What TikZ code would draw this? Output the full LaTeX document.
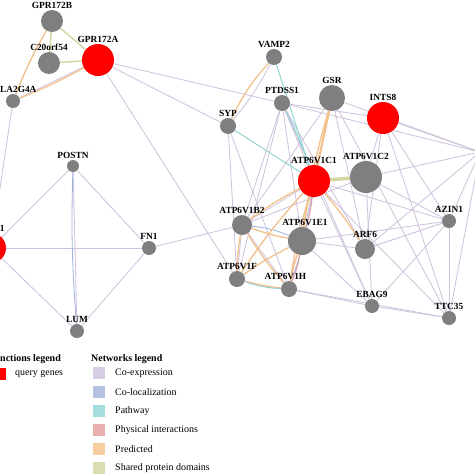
\documentclass[tikz,border=0pt]{standalone}
\usepackage{fontspec}
\setmainfont{Liberation Serif}
\usetikzlibrary{backgrounds}

\definecolor{gnode}{HTML}{7F7F7F}
\definecolor{qred}{HTML}{FF0000}
\definecolor{coexp}{HTML}{CEC2DC}
\definecolor{coloc}{HTML}{9FB3DC}
\definecolor{pathw}{HTML}{8FD4D4}
\definecolor{physi}{HTML}{E49C9C}
\definecolor{predi}{HTML}{F2C08A}
\definecolor{shdom}{HTML}{D3D69E}

\tikzset{
  gene/.style={circle,fill=gnode,inner sep=0pt,minimum size=#1},
  query/.style={circle,fill=qred,inner sep=0pt,minimum size=#1},
  lbl/.style={font=\bfseries\fontsize{8}{9}\selectfont,inner sep=1pt},
  legbox/.style={inner sep=0pt,minimum size=0.36cm},
  legtext/.style={font=\fontsize{8.5}{10}\selectfont,inner sep=0pt,anchor=west},
  leghead/.style={font=\bfseries\fontsize{8.5}{10}\selectfont,inner sep=0pt,anchor=west},
  coex/.style={draw=coexp,line width=0.7pt},
  coloca/.style={draw=coloc,line width=0.7pt},
  pathwy/.style={draw=pathw,line width=0.8pt},
  phys/.style={draw=physi,line width=0.8pt},
  pred/.style={draw=predi,line width=1.1pt},
  shdm/.style={draw=shdom,line width=1.2pt}
}

\begin{document}
\begin{tikzpicture}[x=0.03cm,y=-0.03cm]
\useasboundingbox (0,0) rectangle (474,474);

% genes
\node[gene=0.66cm,label={[lbl]above:GPR172B}] (gprb) at (52,21) {};
\node[gene=0.66cm,label={[lbl]above:C20orf54}] (corf) at (49,63) {};
\node[query=0.96cm,label={[lbl]above:GPR172A}] (gpra) at (98,60) {};
\node[gene=0.42cm,label={[lbl,xshift=4.5pt]above:LA2G4A}] (pla) at (13,101) {};
\node[gene=0.48cm,label={[lbl]above:VAMP2}] (vamp) at (274,57) {};
\node[gene=0.48cm,label={[lbl]above:SYP}] (syp) at (228,126) {};
\node[gene=0.48cm,label={[lbl]above:PTDSS1}] (ptd) at (282,103) {};
\node[gene=0.78cm,label={[lbl]above:GSR}] (gsr) at (332,98) {};
\node[query=0.96cm,label={[lbl]above:INTS8}] (ints) at (383,118) {};
\node[query=0.96cm,label={[lbl]above:ATP6V1C1}] (vc1) at (314,181) {};
\node[gene=0.96cm,label={[lbl]above:ATP6V1C2}] (vc2) at (366,177) {};
\node[gene=0.36cm,label={[lbl]above:POSTN}] (postn) at (73,166) {};
\node[query=0.9cm,label={[lbl,xshift=9.5pt]above:1}] (itg) at (-9,248) {};
\node[gene=0.42cm,label={[lbl]above:FN1}] (fn) at (149,248) {};
\node[gene=0.42cm,label={[lbl]above:LUM}] (lum) at (77,331) {};
\node[gene=0.6cm,label={[lbl]above:ATP6V1B2}] (vb2) at (242,225) {};
\node[gene=0.84cm,label={[lbl,xshift=2.5pt]above:ATP6V1E1}] (ve1) at (302,241) {};
\node[gene=0.48cm,label={[lbl]above:ATP6V1F}] (vf) at (237,279) {};
\node[gene=0.48cm,label={[lbl,xshift=-3pt]above:ATP6V1H}] (vh) at (289,289) {};
\node[gene=0.6cm,label={[lbl]above:ARF6}] (arf) at (365,249) {};
\node[gene=0.42cm,label={[lbl]above:AZIN1}] (azin) at (449,221) {};
\node[gene=0.42cm,label={[lbl]above:EBAG9}] (ebag) at (372,306) {};
\node[gene=0.42cm,label={[lbl]above:TTC35}] (ttc) at (449,318) {};
\coordinate (rt) at (480,152);

% links
\begin{pgfonlayer}{background}
\fill[white] (0,0) rectangle (474,474);
\foreach \a/\b in {gpra/pla,gpra/ptd,gpra/syp,gpra/vf,pla/itg,itg/postn,itg/fn,itg/lum,
  postn/fn,postn/lum,fn/lum,fn/vb2,syp/vh,syp/vf,ptd/vc1,ptd/vb2,ptd/ve1,ptd/vf,ptd/ints,
  ptd/rt,ptd/arf,ptd/ebag,gsr/ve1,gsr/vb2,gsr/arf,gsr/ttc,gsr/rt,ints/rt,ints/vc2,
  ints/azin,ints/ttc,ints/arf,vc2/rt,vc2/azin,vc2/ebag,vc2/vb2,vc1/azin,vc1/ttc,
  vc1/ebag,ve1/azin,ve1/arf,ve1/ebag,vh/ebag,vh/ttc,arf/azin,arf/rt,azin/rt,azin/ttc,
  azin/ebag,ttc/rt,ebag/ttc,vb2/vf,vb2/vh,vc1/vb2}
  \draw[coex] (\a) -- (\b);
\draw[coex] (vamp) to[bend left=6] (syp);
\draw[coloca] (postn) to[bend right=3] (lum);
\draw[coloca] (vb2) to[bend left=8] (ve1);
\draw[coloca] (vc1) to[bend left=5] (vh);
\foreach \a/\b in {gprb/pla,vc1/vb2,vc1/ve1,vc1/vf,vc1/vh,vb2/ve1,vb2/vf,vb2/vh,
  ve1/vf,ve1/vh,vf/vh,gsr/ve1}
  \draw[pred] (\a) to[bend right=4] (\b);
\draw[pred] (pla) to[bend right=3] (gpra);
\draw[pred] (vamp) to[bend right=8] (syp);
\draw[pred] (vc1) to[bend left=4] (arf);
\draw[pred,line width=1.8pt] (gsr) -- (vc1);
\draw[pathwy] (vamp) -- (vc1);
\draw[pathwy] (syp) -- (vc1);
\draw[pathwy] (ptd) to[bend left=4] (vc1);
\draw[pathwy] (vf) to[bend right=8] (vh);
\draw[phys] (vc1) to[bend left=5] (ve1);
\draw[phys] (ve1) to[bend left=6] (vh);
\draw[shdm] (gprb) -- (gpra);
\draw[shdm] (gprb) -- (corf);
\draw[shdm] (corf) -- (gpra);
\draw[shdm,line width=3pt] (vc1) -- (vc2);
\end{pgfonlayer}

% legends
\node[leghead] (fhead) at (0,359) {nctions legend};
\node[legbox,fill=qred] (qbox) at (0,374) {};
\node[legtext] (qtext) at (15,374) {query genes};
\node[leghead] (nhead) at (91,359) {Networks legend};
\foreach \c/\t [count=\i] in {coexp/Co-expression,coloc/Co-localization,pathw/Pathway,
  physi/Physical interactions,predi/Predicted,shdom/Shared protein domains} {
  \node[legbox,fill=\c!80] (box\i) at (99,{373+19*(\i-1)}) {};
  \node[legtext] (leg\i) at (115,{373+19*(\i-1)}) {\t};
}
\end{tikzpicture}
\end{document}
